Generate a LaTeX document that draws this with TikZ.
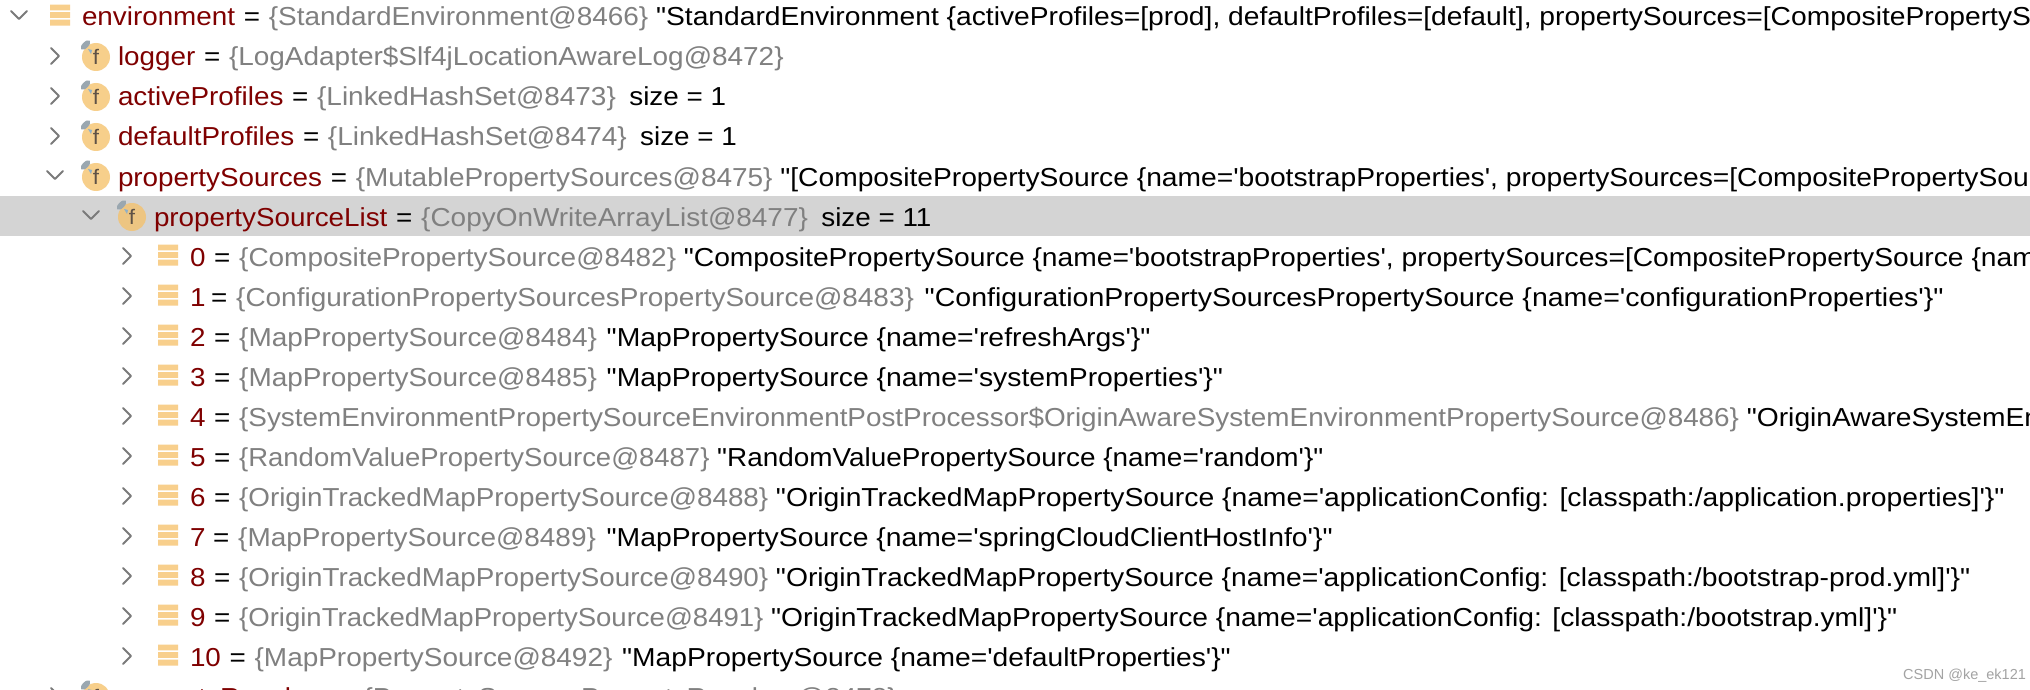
\documentclass[tikz,border=0pt]{standalone}
\usepackage{fontspec}
\setmainfont[FakeStretch=1.07,Ligatures={TeXOff,NoCommon}]{Liberation Sans}
\newfontfamily\valf[FakeStretch=1.085,Ligatures={TeXOff,NoCommon}]{Liberation Sans}
\newfontfamily\typf[FakeStretch=1.075,Ligatures={TeXOff,NoCommon}]{Liberation Sans}
\newfontfamily\wmf[Ligatures={TeXOff,NoCommon}]{Liberation Sans}
\definecolor{namec}{HTML}{7F0000}
\definecolor{typec}{HTML}{808080}
\definecolor{hl}{HTML}{D4D4D4}
\definecolor{chev}{HTML}{7A7A7A}
\definecolor{stripe}{HTML}{F8CF8C}
\definecolor{fcirc}{HTML}{F7CF8B}
\definecolor{fcirchl}{HTML}{EDC582}
\definecolor{pinc}{HTML}{9AA7B0}
\definecolor{wedge}{HTML}{8FB0C8}
\definecolor{fmark}{HTML}{5F5246}
\definecolor{wmc}{HTML}{A3A3A3}
\tikzset{
  rowtext/.style={anchor=base west,inner sep=0pt,outer sep=0pt,font=\fontsize{26}{30}\selectfont},
  chevline/.style={draw=chev,line width=1.9pt,line cap=round,line join=round},
  mark text/.style={anchor=center,inner sep=0pt,font=\fontsize{21}{24}\selectfont,text=fmark},
  wmark/.style={anchor=base west,inner sep=0pt,font=\wmf\fontsize{14.5}{18}\selectfont,text=wmc}
}
\newcommand{\chevopen}[2]{\draw[chevline] (#1-7,#2-6) -- (#1+1,#2+2) -- (#1+9,#2-6);}
\newcommand{\chevclosed}[2]{\draw[chevline] (#1-3,#2-9) -- (#1+5,#2-1) -- (#1-3,#2+7);}
\newcommand{\stripes}[2]{\fill[stripe] (#1,#2-12.3) rectangle (#1+20,#2-6.6) (#1,#2-4.8) rectangle (#1+20,#2+0.8) (#1,#2+2.7) rectangle (#1+20,#2+8.6);}
\newcommand{\ficon}[3][fcirc]{%
  \fill[#1] (#2+1,#3) circle (14);
  \fill[pinc,rotate around={-45:(#2-9.5,#3-12)}] (#2-9.5,#3-12) ellipse (3 and 6);
  \fill[wedge] (#2-7,#3-8) -- (#2-3,#3-7) -- (#2-4,#3-3) -- cycle;
  \node[mark text] at (#2+1,#3) {f};}
\newcommand{\rowtxt}[4]{\node[rowtext] (#1) at (#2,#3) {#4};}
\newcommand{\nm}[1]{\textcolor{namec}{#1}}
\newcommand{\ty}[2][1]{\textcolor{typec}{\typf\scalebox{#1}[1]{#2}}}
\newcommand{\vl}[2][1]{{\valf\scalebox{#1}[1]{#2}}}
\newcommand{\eqs}{\hspace{1pt} = \hspace{1pt}}
\begin{document}
\begin{tikzpicture}[x=1pt,y=-1pt]
\useasboundingbox (0,0) rectangle (2030,690);
\clip (0,0) rectangle (2030,690);
\fill[white] (0,0) rectangle (2030,690);
\fill[hl] (0,196) rectangle (2030,236);
% row 0
\chevopen{18}{17}\stripes{50}{17}
\rowtxt{r0}{82}{26}{\nm{environment}\eqs\ty{\{StandardEnvironment@8466\}} \vl{"StandardEnvironment \{activeProfiles=[prod], defaultProfiles=[default], propertySources=[CompositePropertyS}}
\chevclosed{54}{57}\ficon{95}{57}
\rowtxt{r1}{118}{66}{\nm{logger}\eqs\ty{\{LogAdapter\$Slf4jLocationAwareLog@8472\}}}
\chevclosed{54}{97}\ficon{95}{97}
\rowtxt{r2}{118}{106}{\nm{activeProfiles}\eqs\ty{\{LinkedHashSet@8473\}}\ \ \hspace{-2pt}size = 1}
\chevclosed{54}{137}\ficon{95}{137}
\rowtxt{r3}{118}{146}{\nm{defaultProfiles}\eqs\ty{\{LinkedHashSet@8474\}}\ \ \hspace{-2pt}size = 1}
\chevopen{54}{177}\ficon{95}{177}
\rowtxt{r4}{118}{186}{\nm{propertySources}\eqs\ty{\{MutablePropertySources@8475\}} \vl{"[CompositePropertySource \{name='bootstrapProperties', propertySources=[CompositePropertySou}}
\chevopen{90}{217}\ficon[fcirchl]{131}{217}
\rowtxt{r5}{154}{226}{\nm{propertySourceList}\eqs\ty{\{CopyOnWriteArrayList@8477\}}\ \ \hspace{-2pt}size = 11}
\foreach \yy in {257,297,337,377,417,457,497,537,577,617,657}{\chevclosed{126}{\yy}\stripes{158}{\yy}}
\rowtxt{a0}{190}{266}{\nm{0}\eqs\ty{\{CompositePropertySource@8482\}} \vl{"CompositePropertySource \{name='bootstrapProperties', propertySources=[CompositePropertySource \{nam}}
\rowtxt{a1}{190}{306}{\nm{1}\hspace{-3pt}\eqs\ty{\{ConfigurationPropertySourcesPropertySource@8483\}}\hspace{3pt} \vl[1.0103]{"ConfigurationPropertySourcesPropertySource \{name='configurationProperties'\}"}}
\rowtxt{a2}{190}{346}{\nm{2}\eqs\ty{\{MapPropertySource@8484\}}\hspace{2pt} \vl[1.005]{"MapPropertySource \{name='refreshArgs'\}"}}
\rowtxt{a3}{190}{386}{\nm{3}\eqs\ty{\{MapPropertySource@8485\}}\hspace{2pt} \vl[1.005]{"MapPropertySource \{name='systemProperties'\}"}}
\rowtxt{a4}{190}{426}{\nm{4}\eqs\ty[.9965]{\{SystemEnvironmentPropertySourceEnvironmentPostProcessor\$OriginAwareSystemEnvironmentPropertySource@8486\}} \vl{"OriginAwareSystemEn}}
\rowtxt{a5}{190}{466}{\nm{5}\eqs\ty[.983]{\{RandomValuePropertySource@8487\}} \vl[.989]{"RandomValuePropertySource \{name='random'\}"}}
\rowtxt{a6}{190}{506}{\nm{6}\eqs\ty[.994]{\{OriginTrackedMapPropertySource@8488\}} \vl[1.003]{"OriginTrackedMapPropertySource \{name='applicationConfig: [classpath:/application.properties]'\}"}}
\rowtxt{a7}{190}{546}{\nm{7}\hspace{-1pt}\eqs\ty{\{MapPropertySource@8489\}}\hspace{3pt} \vl[1.004]{"MapPropertySource \{name='springCloudClientHostInfo'\}"}}
\rowtxt{a8}{190}{586}{\nm{8}\eqs\ty[.994]{\{OriginTrackedMapPropertySource@8490\}} \vl[1.002]{"OriginTrackedMapPropertySource \{name='applicationConfig: [classpath:/bootstrap-prod.yml]'\}"}}
\rowtxt{a9}{190}{626}{\nm{9}\eqs\ty[.985]{\{OriginTrackedMapPropertySource@8491\}} \vl{"OriginTrackedMapPropertySource \{name='applicationConfig: [classpath:/bootstrap.yml]'\}"}}
\rowtxt{a10}{190}{666}{\nm{10}\eqs\ty{\{MapPropertySource@8492\}}\hspace{2pt} \vl{"MapPropertySource \{name='defaultProperties'\}"}}
\chevclosed{54}{697}\ficon{95}{697}
\rowtxt{r6}{118}{706}{\nm{propertyResolver}\eqs\ty{\{PropertySourcesPropertyResolver@8478\}}}
\node[wmark] (wm) at (1903,679) {CSDN @ke\_ek121};
\end{tikzpicture}
\end{document}
